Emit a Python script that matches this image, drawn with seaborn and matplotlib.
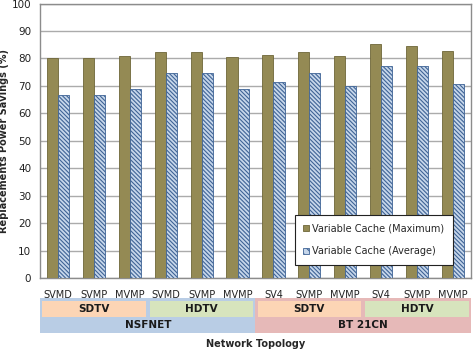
import pandas as pd
import numpy as np
import matplotlib
matplotlib.use("Agg")
import matplotlib.pyplot as plt
from matplotlib.patches import Rectangle, Patch
import seaborn as sns

# data
networks = ["NSFNET", "BT 21CN"]
services = ["SDTV", "HDTV"]
schemes_nsfnet = ["SVMD", "SVMP", "MVMP"]
schemes_bt = ["SV4", "SVMP", "MVMP"]
series_names = ["Variable Cache (Maximum)", "Variable Cache (Average)"]
cache_max = [80.2, 80.2, 80.8, 82.4, 82.4, 80.6, 81.2, 82.2, 80.8, 85.3, 84.6, 82.8]
cache_avg = [66.6, 66.6, 68.8, 74.8, 74.8, 68.8, 71.5, 74.6, 69.8, 77.4, 77.4, 70.8]

# colours
gold = "#948A54"
blue_fill = "#C6D6EA"
blue_hatch = "#3F6496"
band_colors = {"NSFNET": "#B9CDE5", "BT 21CN": "#E6B9B8",
               "SDTV": "#FCD5B5", "HDTV": "#D7E4BD"}
hatch = "\\" * 8

# build the long table
labels = []
keys = []
for net, schemes in zip(networks, [schemes_nsfnet, schemes_bt]):
    for svc in services:
        for sch in schemes:
            labels.append(sch)
            keys.append(f"{net}|{svc}|{sch}")

df = pd.DataFrame({
    "key": keys * 2,
    "value": cache_max + cache_avg,
    "series": [series_names[0]] * len(keys) + [series_names[1]] * len(keys),
})

sns.set_style("white")
plt.rcParams["font.family"] = ["DejaVu Sans"]
plt.rcParams["hatch.linewidth"] = 0.8
plt.rcParams["hatch.color"] = blue_hatch

fig = plt.figure(figsize=(4.74, 3.51), dpi=100)
ax = fig.add_axes([0.085, 0.208, 0.908, 0.782])

sns.barplot(data=df, x="key", y="value", hue="series", order=keys,
            hue_order=series_names, palette=[gold, blue_fill],
            saturation=1, width=0.62, gap=0, ax=ax, legend=False, zorder=3)

for p in ax.containers[0]:
    p.set_edgecolor("#6E6638")
    p.set_linewidth(0.6)
for p in ax.containers[1]:
    p.set_hatch(hatch)
    p.set_edgecolor(blue_hatch)
    p.set_linewidth(0.6)

ax.set_ylim(0, 100)
ax.set_xlim(-0.5, len(keys) - 0.5)
ax.set_yticks(np.arange(0, 101, 10))
ax.yaxis.grid(True, color="#ABABAB", linewidth=1.0, zorder=0)
ax.set_axisbelow(True)
for s in ax.spines.values():
    s.set_color("#8C8C8C")
    s.set_linewidth(1.0)

ax.set_xticks(range(len(keys)))
ax.set_xticklabels(labels, fontsize=7, color="#222222")
ax.set_xticks(np.arange(-0.5, len(keys), 1), minor=True)
ax.tick_params(axis="x", which="major", length=0, pad=9)
ax.tick_params(axis="x", which="minor", length=3, color="#8C8C8C", direction="out")
ax.tick_params(axis="y", labelsize=7.5, length=3, color="#8C8C8C")
for t in ax.get_yticklabels():
    t.set_color("#222222")

ax.set_xlabel("Network Topology", fontsize=7, fontweight="bold")
ax.xaxis.set_label_coords(0.5, -0.222)
ax.set_ylabel("Replacements Power Savings (%)", fontsize=7, fontweight="bold")
ax.yaxis.set_label_coords(-0.072, 0.5)

# grouped category bands below the axis
tr = ax.get_xaxis_transform()
n_per_net = len(services) * 3
for i, net in enumerate(networks):
    x0 = -0.5 + i * n_per_net
    ax.add_patch(Rectangle((x0, -0.2), n_per_net, 0.128, transform=tr,
                           facecolor=band_colors[net], edgecolor="none",
                           clip_on=False))
    ax.text(x0 + n_per_net / 2, -0.171, net, transform=tr, ha="center",
            va="center", fontsize=7.5, fontweight="bold", color="#1a1a1a")
    for j, svc in enumerate(services):
        sx = x0 + j * 3
        ax.add_patch(Rectangle((sx + 0.06, -0.141), 3 - 0.12, 0.058,
                               transform=tr, facecolor=band_colors[svc],
                               edgecolor="none", clip_on=False))
        ax.text(sx + 1.5, -0.112, svc, transform=tr, ha="center", va="center",
                fontsize=7.5, fontweight="bold", color="#1a1a1a")

handles = [Patch(facecolor=gold, edgecolor="#6E6638", linewidth=0.6),
           Patch(facecolor=blue_fill, edgecolor=blue_hatch, hatch="\\\\\\\\",
                 linewidth=0.6)]
leg = ax.legend(handles, series_names, loc="lower right",
                bbox_to_anchor=(0.97, 0.03), fontsize=7, frameon=True,
                fancybox=False, edgecolor="#222222", handlelength=0.6,
                handleheight=0.6, handletextpad=0.3, labelspacing=1.3,
                borderpad=0.9, framealpha=1)
leg.get_frame().set_linewidth(0.8)
leg.set_zorder(5)

fig.savefig("out.png", dpi=100)
